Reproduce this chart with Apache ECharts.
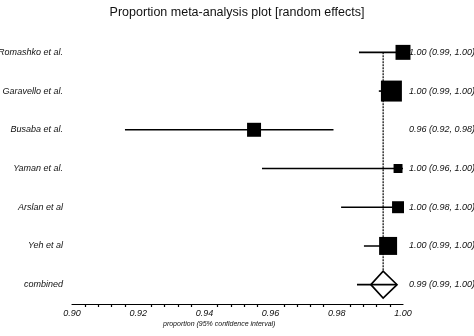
<!DOCTYPE html>
<html>
<head>
<meta charset="UTF-8">
<title>Proportion meta-analysis plot</title>
<script src="https://cdn.jsdelivr.net/npm/echarts@6/dist/echarts.min.js"></script>
<style>
  html, body { margin: 0; padding: 0; background: #fff; }
  #main { width: 474px; height: 336px; }
</style>
</head>
<body>
<div id="main"></div>
<script>
// study rows
var studies = ['Romashko et al.', 'Garavello et al.', 'Busaba et al.', 'Yaman et al.', 'Arslan et al', 'Yeh et al', 'combined'];
var est = [1.0, 0.9965, 0.955, 0.9985, 0.9985, 0.9955];
var lower = [0.9867, 0.9927, 0.916, 0.9574, 0.9813, 0.9882];
var upper = [1.0, 0.9985, 0.979, 1.0, 1.0, 0.9982];
var weights = [15.9, 31.3, 13.9, 5.7, 10.2, 23.0]; // % weight -> box area
// pooled estimate: [low, est, high] and the whisker around it
var pooled = [0.9903, 0.994, 0.9982];
var pooledWhisker = [0.9861, 0.9982];
var rightLabels = ['1.00 (0.99, 1.00)', '1.00 (0.99, 1.00)', '0.96 (0.92, 0.98)', '1.00 (0.96, 1.00)',
                   '1.00 (0.98, 1.00)', '1.00 (0.99, 1.00)', '0.99 (0.99, 1.00)'];
var xTicks = [0.90, 0.92, 0.94, 0.96, 0.98, 1.00];

var font = 'Liberation Sans, Arial, sans-serif';
var chart = echarts.init(document.getElementById('main'));

var studyData = [];
for (var i = 0; i < est.length; i++) {
    studyData.push([lower[i], est[i], upper[i], weights[i], i]);
}

chart.setOption({
    animation: false,
    title: {
        text: 'Proportion meta-analysis plot [random effects]',
        left: 'center',
        top: 1,
        textStyle: { fontFamily: font, fontSize: 12.5, fontWeight: 'normal', color: '#111' }
    },
    grid: { left: 72, right: 71, top: 33, bottom: 32, outerBoundsMode: 'none', containLabel: false },
    xAxis: {
        type: 'value',
        min: xTicks[0],
        max: xTicks[xTicks.length - 1],
        interval: 0.02,
        axisLine: { show: true, onZero: false, lineStyle: { color: '#000', width: 1.2 } },
        axisTick: { length: 5, lineStyle: { color: '#000', width: 1.2 } },
        minorTick: { show: true, splitNumber: 5, length: 3, lineStyle: { color: '#000', width: 1.2 } },
        splitLine: { show: false },
        axisLabel: {
            margin: 5,
            fontFamily: font, fontSize: 9, fontStyle: 'italic', color: '#111',
            formatter: function (v) { return v.toFixed(2); }
        }
    },
    yAxis: [{
        type: 'category',
        data: studies,
        inverse: true,
        axisLine: { show: false },
        axisTick: { show: false },
        axisLabel: { margin: 9, fontFamily: font, fontSize: 9, fontStyle: 'italic', color: '#111' }
    }, {
        type: 'category',
        data: rightLabels,
        inverse: true,
        position: 'right',
        axisLine: { show: false },
        axisTick: { show: false },
        axisLabel: { margin: 6, align: 'left', fontFamily: font, fontSize: 9, fontStyle: 'italic', color: '#111' }
    }],
    graphic: [{
        type: 'text',
        left: 163,
        top: 321,
        style: {
            text: 'proportion (95% confidence interval)',
            font: 'italic 7px ' + font,
            fill: '#111'
        }
    }],
    series: [{
        // individual studies: CI whisker + weighted box
        type: 'custom',
        clip: false,
        data: studyData,
        encode: { x: [0, 1, 2], y: 4 },
        renderItem: function (params, api) {
            var row = api.value(4);
            var a = api.coord([api.value(0), row]);
            var m = api.coord([api.value(1), row]);
            var b = api.coord([api.value(2), row]);
            var side = Math.sqrt(api.value(3)) * 3.75;
            return {
                type: 'group',
                children: [{
                    type: 'line',
                    shape: { x1: a[0], y1: a[1], x2: b[0], y2: b[1] },
                    style: { stroke: '#000', lineWidth: 1.6 }
                }, {
                    type: 'rect',
                    shape: { x: m[0] - side / 2, y: m[1] - side / 2, width: side, height: side },
                    style: { fill: '#000' }
                }]
            };
        }
    }, {
        // pooled estimate: dotted reference line, whisker and diamond
        type: 'custom',
        clip: false,
        data: [[pooled[0], pooled[1], pooled[2], pooledWhisker[0], pooledWhisker[1], studies.length - 1]],
        encode: { x: [0, 1, 2], y: 5 },
        renderItem: function (params, api) {
            var row = api.value(5);
            var l = api.coord([api.value(0), row]);
            var c = api.coord([api.value(1), row]);
            var r = api.coord([api.value(2), row]);
            var wl = api.coord([api.value(3), row]);
            var wr = api.coord([api.value(4), row]);
            var top = api.coord([api.value(1), 0]);
            var h = 13.5;
            return {
                type: 'group',
                children: [{
                    type: 'line',
                    shape: { x1: c[0], y1: top[1], x2: c[0], y2: c[1] - h },
                    style: { stroke: '#000', lineWidth: 1.2, lineDash: [2, 1] }
                }, {
                    type: 'line',
                    shape: { x1: wl[0], y1: wl[1], x2: wr[0], y2: wr[1] },
                    style: { stroke: '#000', lineWidth: 1.6 }
                }, {
                    type: 'polygon',
                    shape: { points: [[l[0], c[1]], [c[0], c[1] - h], [r[0], c[1]], [c[0], c[1] + h]] },
                    style: { fill: 'none', stroke: '#000', lineWidth: 1.6 }
                }]
            };
        }
    }]
});
</script>
</body>
</html>
